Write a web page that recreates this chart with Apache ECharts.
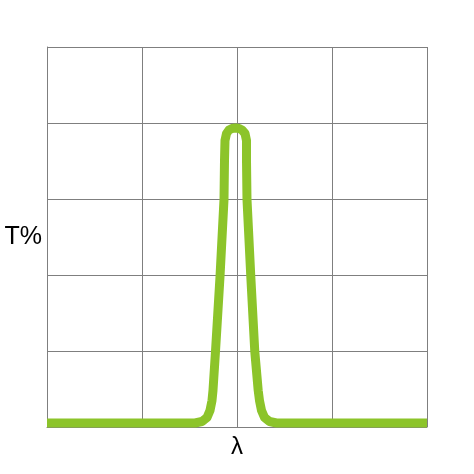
<!DOCTYPE html>
<html>
<head>
<meta charset="utf-8">
<script src="https://cdn.jsdelivr.net/npm/echarts@6/dist/echarts.min.js"></script>
<style>html,body{margin:0;padding:0;background:#fff;}#c{width:474px;height:474px;}</style>
</head>
<body>
<div id="c"></div>
<script>
var xName = 'λ';
var yName = 'T%';
var wavelength = [0, 38.95, 40.79, 42.11, 42.89, 43.42, 43.68, 44.34, 45.53, 46.58, 46.71, 46.84, 47.24, 47.89, 48.68, 49.61, 50.53, 51.32, 52.11, 52.50, 52.5, 52.63, 53.63, 54.68, 55.58, 55.92, 56.45, 57.24, 58.55, 60.39, 100];
var transmission = [1.05, 1.05, 1.45, 2.5, 4.34, 6.97, 9.61, 19.87, 39.61, 59.87, 70.13, 75.39, 77.24, 78.16, 78.55, 78.66, 78.55, 78.16, 77.24, 75.39, 70.13, 59.87, 39.61, 19.87, 9.61, 6.97, 4.34, 2.5, 1.45, 1.05, 1.05];

var data = wavelength.map(function (x, i) { return [x, transmission[i]]; });
var chart = echarts.init(document.getElementById('c'));
var gridLine = { show: true, lineStyle: { color: '#7f7f7f', width: 1 } };
chart.setOption({
  animation: false,
  backgroundColor: '#fff',
  grid: { left: 47, right: 47, top: 47, bottom: 47, show: false },
  xAxis: {
    type: 'value', min: 0, max: 100, interval: 25,
    name: xName, nameLocation: 'middle', nameGap: 8,
    nameTextStyle: { fontSize: 24, color: '#000', fontFamily: 'Liberation Sans', verticalAlign: 'top' },
    axisLine: { show: true, lineStyle: { color: '#7f7f7f', width: 1 } },
    axisTick: { show: false }, axisLabel: { show: false },
    splitLine: gridLine
  },
  yAxis: {
    type: 'value', min: 0, max: 100, interval: 20,
    name: yName, nameLocation: 'middle', nameGap: 5, nameRotate: 0,
    nameTextStyle: { fontSize: 25, color: '#000', fontFamily: 'Liberation Sans', align: 'right', verticalAlign: 'middle' },
    axisLine: { show: true, lineStyle: { color: '#7f7f7f', width: 1 } },
    axisTick: { show: false }, axisLabel: { show: false },
    splitLine: gridLine
  },
  series: [{
    type: 'line', data: data, showSymbol: false, symbol: 'none', smooth: false,
    lineStyle: { color: '#8cc42a', width: 9, cap: 'butt', join: 'round' }
  }]
});
</script>
</body>
</html>
